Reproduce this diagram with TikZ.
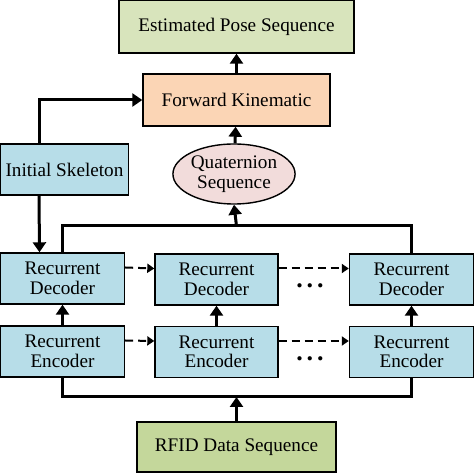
\documentclass[tikz,border=0pt]{standalone}
\usepackage{fontspec}
\setmainfont{Liberation Serif}
\usetikzlibrary{arrows.meta}
\usetikzlibrary{shapes.geometric}

\definecolor{poseGreen}{HTML}{D8E4BC}
\definecolor{rfidGreen}{HTML}{C4D79B}
\definecolor{kinPeach}{HTML}{FBD5B5}
\definecolor{cellBlue}{HTML}{B7DDE8}
\definecolor{quatPink}{HTML}{F2DCDB}

\begin{document}
\begin{tikzpicture}[x=1pt,y=1pt]
  \tikzset{block/.style = {shape=rectangle,draw,line width=1.4pt,inner sep=0pt,align=center,
      font=\fontsize{19.2}{19.5}\selectfont,minimum height=51pt}}
  \tikzset{oval/.style = {shape=ellipse,draw,line width=1.4pt,inner sep=0pt,align=center,
      font=\fontsize{19.2}{19.5}\selectfont,minimum width=114pt,minimum height=60pt}}
  \tikzset{link/.style = {line width=3pt,-{Triangle[width=13pt,length=10pt]}}}
  \tikzset{wire/.style = {line width=3pt}}
  \tikzset{dashlink/.style = {line width=2pt,dash pattern=on 8pt off 5pt,-{Triangle[width=9pt,length=7pt]}}}
  \useasboundingbox (0,0) rectangle (474,474);

	\node[block,fill=poseGreen,minimum width=235pt,minimum height=53pt] (E) at (236.5,447.5) {Estimated Pose Sequence};
	\node[block,fill=kinPeach,minimum width=187pt,minimum height=52pt] (F) at (236.5,374) {Forward Kinematic};
	\node[block,fill=cellBlue,minimum width=128pt] (I) at (64.5,304.5) {Initial Skeleton};
	\node[oval,fill=quatPink] (Q) at (234,300) {Quaternion\\Sequence};

	\node[block,fill=cellBlue,minimum width=124pt] (D1) at (62.5,195.5) {Recurrent\\Decoder};
	\node[block,fill=cellBlue,minimum width=123pt] (D2) at (216.5,194.5) {Recurrent\\Decoder};
	\node[block,fill=cellBlue,minimum width=124pt] (D3) at (411.5,194.5) {Recurrent\\Decoder};
	\node[block,fill=cellBlue,minimum width=124pt] (C1) at (62.5,122.5) {Recurrent\\Encoder};
	\node[block,fill=cellBlue,minimum width=123pt] (C2) at (216.5,122) {Recurrent\\Encoder};
	\node[block,fill=cellBlue,minimum width=124pt] (C3) at (411.5,122) {Recurrent\\Encoder};

	\node[block,fill=rfidGreen,minimum width=199pt,minimum height=50pt] (R) at (236.5,27) {RFID Data Sequence};

	\node[font=\fontsize{26}{26}\selectfont\bfseries] (DotsD) at (310,188) {.\hspace{4pt}.\hspace{4pt}.};
	\node[font=\fontsize{26}{26}\selectfont\bfseries] (DotsC) at (310,115) {.\hspace{4pt}.\hspace{4pt}.};

	\coordinate (TopBus) at (236.5,248);
	\coordinate (BotBus) at (236.5,77);
	\coordinate (SkelUp) at ([xshift=-25.5]I.north);
	\coordinate (SkelDown) at ([xshift=-25.5]I.south);
	\coordinate (DecIn) at ([xshift=-23]D1.north);

	\draw[link] (F) -- (E);
	\draw[link] (Q) -- (F);
	\draw[link] (SkelUp) |- (F.west);
	\draw[link] (SkelDown) -- (DecIn);

	\draw[wire] (D1.north) |- (TopBus) -| (D3.north);
	\draw[link] (TopBus) -- (Q.south);

       \foreach \from/\to in {C1/D1, C2/D2, C3/D3}
    \draw[link] (\from.north) -- (\to.south);
       \foreach \from/\to in {D1/D2, D2/D3, C1/C2, C2/C3}
    \draw[dashlink] ([yshift=11]\from.east) -- ([yshift=11]\to.west);

	\draw[wire] (C1.south) |- (BotBus) -| (C3.south);
	\draw[link] (R.north) -- (BotBus);
\end{tikzpicture}
\end{document}
